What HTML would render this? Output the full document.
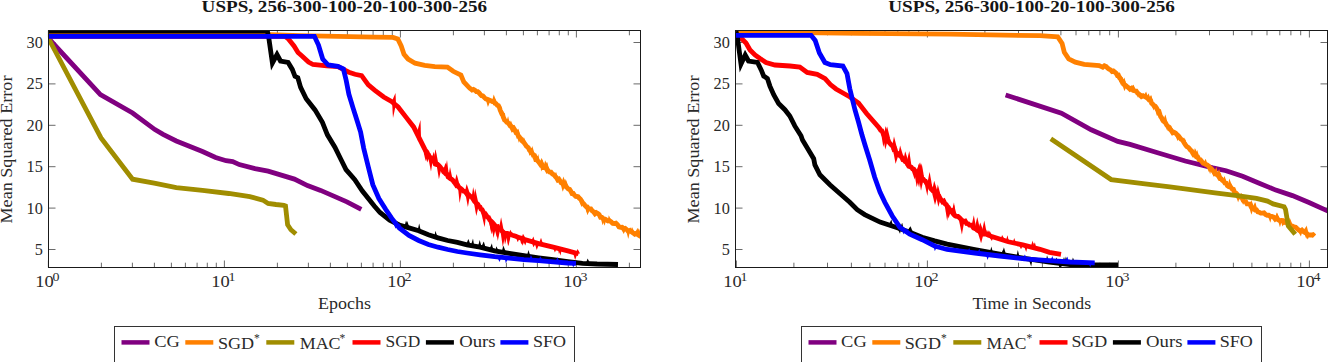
<!DOCTYPE html>
<html><head><meta charset="utf-8"><style>
html,body{margin:0;padding:0;background:#fff;width:1330px;height:362px;overflow:hidden}
svg{display:block}
.t{font-family:"Liberation Serif",serif;font-size:16.3px;fill:#2a2a2a}
.s2{font-family:"Liberation Serif",serif;font-size:12.4px;fill:#2a2a2a}
.s{font-family:"Liberation Serif",serif;font-size:11.5px;fill:#2a2a2a}
.b{font-family:"Liberation Serif",serif;font-size:16.3px;font-weight:bold;fill:#151515;letter-spacing:0}
</style></head><body>
<svg width="1330" height="362" viewBox="0 0 1330 362">
<clipPath id="clipL"><rect x="48.5" y="30.5" width="592.0" height="237.0"/></clipPath>
<path d="M48.4 267.5v-7.0M48.4 30.5v7.0M101.4 267.5v-4.8M101.4 30.5v4.8M132.4 267.5v-4.8M132.4 30.5v4.8M154.4 267.5v-4.8M154.4 30.5v4.8M171.4 267.5v-4.8M171.4 30.5v4.8M185.4 267.5v-4.8M185.4 30.5v4.8M197.1 267.5v-4.8M197.1 30.5v4.8M207.3 267.5v-4.8M207.3 30.5v4.8M216.3 267.5v-4.8M216.3 30.5v4.8M224.4 267.5v-7.0M224.4 30.5v7.0M277.4 267.5v-4.8M277.4 30.5v4.8M308.4 267.5v-4.8M308.4 30.5v4.8M330.4 267.5v-4.8M330.4 30.5v4.8M347.4 267.5v-4.8M347.4 30.5v4.8M361.4 267.5v-4.8M361.4 30.5v4.8M373.1 267.5v-4.8M373.1 30.5v4.8M383.3 267.5v-4.8M383.3 30.5v4.8M392.3 267.5v-4.8M392.3 30.5v4.8M400.4 267.5v-7.0M400.4 30.5v7.0M453.4 267.5v-4.8M453.4 30.5v4.8M484.4 267.5v-4.8M484.4 30.5v4.8M506.4 267.5v-4.8M506.4 30.5v4.8M523.4 267.5v-4.8M523.4 30.5v4.8M537.4 267.5v-4.8M537.4 30.5v4.8M549.1 267.5v-4.8M549.1 30.5v4.8M559.3 267.5v-4.8M559.3 30.5v4.8M568.3 267.5v-4.8M568.3 30.5v4.8M576.4 267.5v-7.0M576.4 30.5v7.0M629.4 267.5v-4.8M629.4 30.5v4.8M48.5 249.5h7M640.5 249.5h-7M48.5 208.1h7M640.5 208.1h-7M48.5 166.7h7M640.5 166.7h-7M48.5 125.3h7M640.5 125.3h-7M48.5 83.9h7M640.5 83.9h-7M48.5 42.5h7M640.5 42.5h-7" stroke="#444" stroke-width="0.8" fill="none"/>
<g clip-path="url(#clipL)" fill="none" stroke-width="4.8" stroke-linejoin="miter" stroke-miterlimit="6" stroke-linecap="butt">
<polyline stroke="#800080" points="48.6,38.5 100.4,94.7 132.6,113.0 154.9,129.6 163.1,134.4 176.3,141.0 189.4,146.3 202.5,151.5 215.6,157.5 226.1,160.7 232.7,161.5 239.3,164.6 255.0,168.6 268.1,171.2 281.3,175.1 294.4,179.1 307.5,185.6 320.6,190.4 333.8,196.1 346.9,201.9 361.3,209.3"/>
<polyline stroke="#ff8000" points="48.6,34.4 270.0,34.6 300.0,35.6 375.0,37.2 393.0,37.4 397.8,39.0 401.2,46.0 404.0,54.2 408.1,59.1 415.1,63.2 424.7,65.3 434.8,66.6 447.4,67.0 453.2,71.3 460.9,75.1 463.8,81.9 469.1,87.6 470.6,88.8 472.0,90.0 473.5,89.4 474.9,90.1 476.4,91.6 477.7,91.7 479.0,92.8 480.3,94.3 481.6,95.7 482.9,95.9 484.2,97.4 485.8,98.9 487.4,99.4 489.0,99.9 490.6,100.7 492.2,101.5 493.8,101.3 495.0,103.3 496.1,103.8 497.3,105.2 498.4,105.7 499.6,108.0 500.2,110.2 500.8,111.5 501.4,113.1 502.1,114.4 502.7,114.7 503.3,117.1 503.9,118.4 504.5,120.0 505.7,120.9 506.8,122.2 508.0,122.8 509.1,124.2 510.3,126.0 511.4,126.5 512.6,129.0 513.7,128.2 514.9,130.2 515.9,132.4 517.0,132.2 518.0,135.2 519.0,136.5 520.1,138.0 521.1,139.0 522.1,141.0 523.2,141.8 524.2,142.9 525.2,144.3 526.3,146.0 527.3,146.8 528.3,147.7 529.4,150.0 530.4,150.3 531.4,152.7 532.5,153.8 533.5,155.0 534.5,155.5 535.6,159.1 536.6,158.8 537.6,160.9 538.7,161.9 539.7,163.4 541.0,165.2 542.2,165.1 543.5,167.6 544.7,167.5 546.0,168.1 547.2,169.6 548.5,171.2 549.7,172.1 551.0,172.1 552.2,173.7 553.3,174.5 554.5,175.5 555.6,176.8 556.7,178.0 557.8,180.0 559.0,179.3 560.1,180.9 561.2,182.9 562.3,183.4 563.5,184.2 564.6,186.2 565.8,186.3 567.1,187.6 568.3,189.0 569.6,189.4 570.8,191.2 572.0,193.6 573.3,193.5 574.5,195.2 575.8,196.4 577.0,196.5 578.1,196.7 579.3,198.2 580.4,199.1 581.5,200.7 582.7,202.9 583.8,203.8 585.0,205.5 586.1,206.6 587.2,206.9 588.4,208.7 589.5,209.0 590.9,209.0 592.3,210.9 593.6,211.8 595.0,213.8 596.4,212.6 597.8,213.4 599.1,214.5 600.5,217.3 601.9,217.3 603.4,218.8 605.0,219.1 606.5,220.1 608.1,221.0 609.6,220.7 611.2,221.9 612.8,223.4 614.3,223.5 615.9,223.1 617.4,224.5 619.0,226.9 620.5,227.4 622.1,227.2 623.7,228.8 625.2,228.4 626.8,229.7 628.4,231.4 630.0,230.5 631.5,231.9 633.1,232.9 634.7,234.2 636.3,233.3 637.8,234.5 639.4,235.7 641.0,236.5"/>
<polygon fill="#ff8000" points="626.3,231.2 630.0,231.2 628.3,239.0"/>
<polygon fill="#ff8000" points="540.5,165.6 544.4,165.6 542.4,159.0"/>
<polygon fill="#ff8000" points="505.9,122.7 509.7,122.7 508.1,116.3"/>
<polygon fill="#ff8000" points="539.9,165.1 544.2,165.1 541.3,171.6"/>
<polygon fill="#ff8000" points="601.6,218.9 606.3,218.9 604.7,225.7"/>
<polygon fill="#ff8000" points="529.7,153.3 534.4,153.3 532.3,146.1"/>
<polygon fill="#ff8000" points="521.3,142.5 526.2,142.5 523.9,137.2"/>
<polygon fill="#ff8000" points="544.6,168.7 548.5,168.7 546.2,161.8"/>
<polygon fill="#ff8000" points="607.6,220.7 611.4,220.7 608.8,215.2"/>
<polygon fill="#ff8000" points="515.0,132.6 519.2,132.6 516.9,139.3"/>
<polygon fill="#ff8000" points="517.0,136.9 521.6,136.9 518.9,142.8"/>
<polygon fill="#ff8000" points="485.8,99.7 490.9,99.7 487.9,107.1"/>
<polygon fill="#ff8000" points="560.6,184.1 565.9,184.1 562.7,191.8"/>
<polygon fill="#ff8000" points="634.9,233.6 638.5,233.6 637.2,228.5"/>
<polygon fill="#ff8000" points="584.9,207.3 590.2,207.3 587.6,215.3"/>
<polygon fill="#ff8000" points="636.3,235.4 641.7,235.4 638.8,228.2"/>
<polygon fill="#ff8000" points="501.1,116.2 505.0,116.2 503.8,111.0"/>
<polygon fill="#ff8000" points="630.3,232.5 634.8,232.5 632.0,226.9"/>
<polygon fill="#ff8000" points="560.8,183.8 565.1,183.8 563.6,176.4"/>
<polygon fill="#ff8000" points="543.5,168.2 548.6,168.2 546.7,174.2"/>
<polygon fill="#ff8000" points="585.1,207.5 590.2,207.5 587.8,213.7"/>
<polygon fill="#ff8000" points="508.3,126.2 513.3,126.2 510.9,120.4"/>
<polygon fill="#ff8000" points="561.7,185.2 566.4,185.2 563.8,177.7"/>
<polygon fill="#ff8000" points="563.0,186.3 568.3,186.3 565.0,178.8"/>
<polygon fill="#ff8000" points="563.8,186.6 568.4,186.6 566.1,179.9"/>
<polygon fill="#ff8000" points="544.7,169.2 549.0,169.2 547.3,162.0"/>
<polygon fill="#ff8000" points="491.8,102.1 496.7,102.1 493.7,94.5"/>
<polygon fill="#ff8000" points="544.4,169.1 549.3,169.1 546.8,162.9"/>
<polygon fill="#ff8000" points="585.5,207.8 590.1,207.8 587.5,214.4"/>
<polygon fill="#ff8000" points="621.1,228.8 626.3,228.8 623.7,234.0"/>
<polygon fill="#ff8000" points="600.8,218.2 604.9,218.2 602.6,225.3"/>
<polygon fill="#ff8000" points="527.6,150.1 531.9,150.1 529.6,156.0"/>
<polygon fill="#ff8000" points="539.4,165.1 544.0,165.1 541.4,157.7"/>
<polygon fill="#ff8000" points="515.5,133.9 519.6,133.9 518.1,128.6"/>
<polygon fill="#ff8000" points="554.0,177.1 557.8,177.1 556.0,171.8"/>
<polygon fill="#ff8000" points="543.0,167.9 548.2,167.9 545.2,160.3"/>
<polygon fill="#ff8000" points="635.5,234.7 640.6,234.7 637.7,227.8"/>
<polygon fill="#ff8000" points="530.1,153.2 533.8,153.2 532.3,158.7"/>
<polygon fill="#ff8000" points="535.8,160.9 539.5,160.9 538.3,153.9"/>
<polygon fill="#ff8000" points="579.3,201.5 584.6,201.5 581.5,207.0"/>
<polyline stroke="#a08d00" points="48.6,38.5 101.0,137.9 132.6,179.2 154.2,183.2 176.3,187.7 202.5,190.4 228.8,193.5 249.8,196.7 262.9,200.1 268.1,203.5 276.0,204.5 283.9,205.3 285.5,206.0 287.6,224.7 290.9,229.7 295.9,234.0"/>
<polyline stroke="#ff0000" points="48.6,36.3 285.0,36.3 288.0,38.5 294.0,46.0 298.0,52.5 302.0,56.0 308.5,62.0 313.0,64.5 326.8,65.8 337.9,66.7 348.9,72.2 355.0,74.3 361.6,75.6 368.3,84.9 374.9,90.4 383.7,97.0 391.5,101.5 398.1,107.0 405.8,116.9 413.6,126.9 424.8,149.2 425.8,150.8 426.8,152.0 427.8,153.7 428.7,155.1 429.7,157.1 430.7,157.6 431.7,160.1 432.7,160.9 434.0,161.1 435.2,164.1 436.5,164.5 437.7,164.4 439.0,165.6 440.2,167.1 441.5,168.7 442.6,169.9 443.7,171.9 444.8,172.7 445.9,174.0 447.1,174.4 448.2,177.1 449.3,177.8 450.4,178.6 451.7,179.3 452.9,180.3 454.2,182.2 455.4,183.5 456.7,185.7 457.9,185.6 459.2,187.5 460.6,188.5 461.9,189.5 463.3,191.1 464.7,191.4 466.1,192.7 467.4,194.6 468.8,194.7 470.2,196.3 471.3,196.6 472.4,198.0 473.5,199.8 474.6,201.5 475.6,202.5 476.7,203.3 477.8,204.2 478.9,206.4 480.0,207.0 481.0,209.2 482.1,209.6 483.1,211.6 484.2,213.7 485.2,213.7 486.3,215.2 487.3,217.0 488.5,217.5 489.7,219.8 491.0,221.2 492.2,222.2 493.4,223.6 494.6,225.0 496.1,226.9 497.6,226.7 499.0,229.2 500.5,229.2 502.0,231.0 503.8,232.6 505.6,233.4 507.5,233.5 509.3,234.0 510.9,234.6 512.5,235.2 514.2,235.7 515.8,236.3 517.4,236.9 519.0,237.5 520.7,238.0 522.3,238.6 523.9,239.2 538.6,243.6 553.2,247.2 567.8,250.9 578.5,253.8"/>
<polygon fill="#ff0000" points="436.8,166.0 441.9,166.0 438.9,179.2"/>
<polygon fill="#ff0000" points="491.4,224.3 496.6,224.3 493.5,238.1"/>
<polygon fill="#ff0000" points="423.1,149.9 427.4,149.9 425.7,161.2"/>
<polygon fill="#ff0000" points="442.1,173.1 448.3,173.1 445.6,162.7"/>
<polygon fill="#ff0000" points="498.7,229.9 503.6,229.9 501.1,217.2"/>
<polygon fill="#ff0000" points="432.8,163.7 437.3,163.7 435.6,149.0"/>
<polygon fill="#ff0000" points="433.2,164.3 438.5,164.3 435.6,149.7"/>
<polygon fill="#ff0000" points="464.2,194.2 470.1,194.2 466.7,184.1"/>
<polygon fill="#ff0000" points="489.9,223.1 495.9,223.1 493.3,233.3"/>
<polygon fill="#ff0000" points="489.2,221.6 493.6,221.6 491.3,234.0"/>
<polygon fill="#ff0000" points="493.9,226.8 500.0,226.8 496.8,237.0"/>
<polygon fill="#ff0000" points="453.7,185.7 459.9,185.7 456.6,173.9"/>
<polygon fill="#ff0000" points="424.2,153.0 430.4,153.0 427.3,162.6"/>
<polygon fill="#ff0000" points="465.5,194.6 470.1,194.6 467.9,206.9"/>
<polygon fill="#ff0000" points="471.2,199.7 475.7,199.7 473.2,186.9"/>
<polygon fill="#ff0000" points="503.3,233.4 508.1,233.4 505.0,244.5"/>
<polygon fill="#ff0000" points="428.2,157.6 433.2,157.6 431.0,171.5"/>
<polygon fill="#ff0000" points="481.3,212.9 486.3,212.9 484.6,227.3"/>
<polygon fill="#ff0000" points="506.1,233.8 511.2,233.8 508.4,246.3"/>
<polygon fill="#ff0000" points="444.4,174.2 448.7,174.2 447.0,160.0"/>
<polygon fill="#ff0000" points="490.2,222.4 494.5,222.4 491.9,234.3"/>
<polygon fill="#ff0000" points="448.1,178.5 452.4,178.5 450.0,166.9"/>
<polygon fill="#ff0000" points="500.6,232.1 505.8,232.1 502.8,247.0"/>
<polygon fill="#ff0000" points="506.3,233.7 510.5,233.7 508.0,245.9"/>
<polygon fill="#ff0000" points="495.2,227.3 500.6,227.3 497.8,241.1"/>
<polygon fill="#ff0000" points="472.9,202.5 478.2,202.5 475.2,188.4"/>
<polygon fill="#ff0000" points="488.8,222.0 494.9,222.0 491.1,231.0"/>
<polygon fill="#ff0000" points="474.0,203.2 479.3,203.2 476.3,216.1"/>
<polygon fill="#ff0000" points="458.1,188.3 462.5,188.3 459.6,203.1"/>
<polygon fill="#ff0000" points="430.9,161.0 435.4,161.0 433.8,151.8"/>
<polygon fill="#ff0000" points="392.0,101.0 396.0,104.0 395.5,93.0"/>
<polygon fill="#ff0000" points="392.0,101.0 396.0,104.0 393.0,118.0"/>
<polygon fill="#ff0000" points="417.0,132.0 421.0,138.0 420.5,120.0"/>
<polygon fill="#ff0000" points="417.0,132.0 421.0,138.0 418.0,141.5"/>
<polygon fill="#ff0000" points="508.7,234.5 513.0,234.5 510.3,229.8"/>
<polygon fill="#ff0000" points="515.9,237.0 519.4,237.0 518.0,242.1"/>
<polygon fill="#ff0000" points="553.1,247.7 557.0,247.7 554.9,252.5"/>
<polygon fill="#ff0000" points="575.4,253.6 580.1,253.6 577.6,248.9"/>
<polygon fill="#ff0000" points="521.1,239.1 525.9,239.1 523.0,233.7"/>
<polygon fill="#ff0000" points="522.4,239.5 527.1,239.5 525.3,245.4"/>
<polygon fill="#ff0000" points="531.8,242.3 536.6,242.3 533.4,247.3"/>
<polygon fill="#ff0000" points="558.2,248.9 561.8,248.9 560.5,255.6"/>
<polygon fill="#ff0000" points="557.9,248.8 561.4,248.8 558.9,253.8"/>
<polygon fill="#ff0000" points="530.7,241.9 535.0,241.9 533.4,236.5"/>
<polygon fill="#ff0000" points="573.1,253.0 577.6,253.0 575.1,259.9"/>
<polygon fill="#ff0000" points="519.8,238.5 524.1,238.5 521.3,244.6"/>
<polygon fill="#ff0000" points="521.0,238.9 525.3,238.9 522.5,245.7"/>
<polygon fill="#ff0000" points="534.8,243.2 539.5,243.2 536.7,249.9"/>
<polygon fill="#ff0000" points="538.7,244.2 543.2,244.2 541.0,237.7"/>
<polygon fill="#ff0000" points="516.3,237.1 519.7,237.1 517.5,241.9"/>
<polyline stroke="#000000" points="48.6,31.2 267.4,31.2 268.8,38.0 272.4,63.0 277.0,54.5 280.5,61.0 288.1,62.5 292.3,69.4 295.0,76.3 297.8,77.7 300.6,87.4 306.2,98.7 315.0,109.9 322.4,122.4 327.4,134.8 334.9,147.2 341.1,159.7 346.0,169.6 354.8,179.6 362.2,190.8 374.3,206.0 380.0,212.5 389.7,220.1 399.3,225.0 409.0,227.9 418.7,230.8 428.4,234.7 438.0,237.9 447.7,240.5 457.4,242.4 467.0,244.9 480.0,247.2 494.6,250.9 509.3,253.4 523.9,255.7 538.6,257.8 553.2,259.7 567.8,261.6 582.5,263.3 597.1,264.0 618.0,264.5"/>
<polygon fill="#000000" points="470.7,245.9 474.2,245.9 473.0,238.5"/>
<polygon fill="#000000" points="530.9,257.0 534.5,257.0 532.3,262.1"/>
<polygon fill="#000000" points="481.2,248.1 485.5,248.1 483.9,241.6"/>
<polygon fill="#000000" points="501.6,252.5 506.1,252.5 503.3,245.5"/>
<polygon fill="#000000" points="465.8,245.1 470.6,245.1 468.4,238.9"/>
<polygon fill="#000000" points="406.0,227.5 409.5,227.5 407.2,221.1"/>
<polygon fill="#000000" points="489.9,250.2 493.9,250.2 491.3,245.0"/>
<polygon fill="#000000" points="585.8,263.6 590.3,263.6 587.6,258.5"/>
<polygon fill="#000000" points="481.4,248.1 485.4,248.1 483.4,241.7"/>
<polygon fill="#000000" points="495.2,251.3 498.8,251.3 496.3,246.2"/>
<polygon fill="#000000" points="477.8,247.2 481.7,247.2 479.7,240.1"/>
<polygon fill="#000000" points="434.3,237.2 437.6,237.2 435.4,230.7"/>
<polygon fill="#000000" points="404.3,227.1 408.7,227.1 406.0,220.4"/>
<polygon fill="#000000" points="417.4,231.0 420.9,231.0 419.2,223.6"/>
<polygon fill="#000000" points="526.7,256.4 530.4,256.4 528.5,250.0"/>
<polygon fill="#000000" points="489.3,250.0 493.0,250.0 491.9,243.3"/>
<polyline stroke="#0000ff" points="48.6,36.3 314.4,36.3 318.5,45.0 322.7,59.0 328.2,65.0 337.9,66.3 343.4,69.0 346.2,80.5 348.9,94.3 353.1,108.1 357.5,122.0 360.6,132.0 363.7,148.2 368.2,166.5 372.8,184.7 378.9,198.5 385.8,209.5 391.6,218.2 399.3,228.0 409.0,235.5 418.7,240.5 428.4,244.5 438.0,247.2 447.7,249.5 457.4,251.5 467.0,253.0 480.0,254.8 494.6,256.7 509.3,258.2 523.9,259.7 538.6,260.7 553.2,261.9 567.8,263.0 576.0,263.3"/>
<polygon fill="#0000ff" points="504.7,257.9 508.2,257.9 505.8,263.3"/>
<polygon fill="#0000ff" points="538.5,260.9 543.0,260.9 540.2,256.2"/>
<polygon fill="#0000ff" points="555.1,262.2 559.7,262.2 557.5,257.2"/>
<polygon fill="#0000ff" points="393.2,223.0 397.5,223.0 395.6,228.7"/>
<polygon fill="#0000ff" points="571.5,263.2 575.7,263.2 573.2,267.2"/>
<polygon fill="#0000ff" points="497.3,257.2 501.6,257.2 499.5,261.9"/>
<polygon fill="#0000ff" points="397.1,227.9 401.5,227.9 399.9,223.2"/>
<polygon fill="#0000ff" points="529.1,260.2 533.4,260.2 530.9,255.1"/>
<polygon fill="#0000ff" points="367.1,170.0 371.1,170.0 369.6,173.7"/>
<polygon fill="#0000ff" points="362.7,151.1 366.2,151.1 363.8,146.7"/>
<polygon fill="#0000ff" points="367.5,170.2 370.8,170.2 369.5,165.7"/>
<polygon fill="#0000ff" points="360.4,141.6 364.4,141.6 361.8,146.5"/>
<polygon fill="#0000ff" points="350.2,104.8 354.0,104.8 352.6,100.9"/>
<polygon fill="#0000ff" points="364.3,156.6 367.2,156.6 365.8,161.0"/>
<polygon fill="#0000ff" points="354.1,117.2 357.8,117.2 356.6,113.0"/>
</g>
<rect x="48.5" y="30.5" width="592.0" height="237.0" fill="none" stroke="#1a1a1a" stroke-width="1.0"/>
<text x="42.9" y="254.9" text-anchor="end" class="t">5</text>
<text x="42.9" y="213.5" text-anchor="end" class="t">10</text>
<text x="42.9" y="172.1" text-anchor="end" class="t">15</text>
<text x="42.9" y="130.7" text-anchor="end" class="t">20</text>
<text x="42.9" y="89.3" text-anchor="end" class="t">25</text>
<text x="42.9" y="47.9" text-anchor="end" class="t">30</text>
<text id="Lx10_0" class="t" x="35.20" y="286.90" textLength="18.48" lengthAdjust="spacingAndGlyphs">10</text>
<text x="52.5" y="280.6" class="s2" textLength="7.0" lengthAdjust="spacingAndGlyphs">0</text>
<text id="Lx10_1" class="t" x="211.20" y="286.90" textLength="18.48" lengthAdjust="spacingAndGlyphs">10</text>
<text x="228.5" y="280.6" class="s2" textLength="7.0" lengthAdjust="spacingAndGlyphs">1</text>
<text id="Lx10_2" class="t" x="387.20" y="286.90" textLength="18.48" lengthAdjust="spacingAndGlyphs">10</text>
<text x="404.5" y="280.6" class="s2" textLength="7.0" lengthAdjust="spacingAndGlyphs">2</text>
<text id="Lx10_3" class="t" x="563.20" y="286.90" textLength="18.48" lengthAdjust="spacingAndGlyphs">10</text>
<text x="580.5" y="280.6" class="s2" textLength="7.0" lengthAdjust="spacingAndGlyphs">3</text>
<text id="Lxl" class="t" x="318.00" y="308.90" textLength="52.94" lengthAdjust="spacingAndGlyphs">Epochs</text>
<text id="Lyl" class="t" transform="translate(11.60,223.50) rotate(-90)" x="0" y="0" textLength="147.92" lengthAdjust="spacingAndGlyphs">Mean Squared Error</text>
<text id="Lti" class="b" x="201.60" y="11.90" textLength="285.44" lengthAdjust="spacingAndGlyphs">USPS, 256-300-100-20-100-300-256</text>
<rect x="114.5" y="326.5" width="460" height="60" fill="none" stroke="#333" stroke-width="1"/>
<line x1="121.5" y1="342.4" x2="149.5" y2="342.4" stroke="#800080" stroke-width="4.5"/>
<text id="Lleg0" class="t" x="154.20" y="347.00" textLength="25.62" lengthAdjust="spacingAndGlyphs">CG</text>
<line x1="185.3" y1="342.4" x2="213.3" y2="342.4" stroke="#ff8000" stroke-width="4.5"/>
<text id="Lleg1" class="t" x="217.90" y="349.20" textLength="36.18" lengthAdjust="spacingAndGlyphs">SGD</text>
<text x="253.9" y="341.6" class="s">*</text>
<line x1="266.3" y1="342.4" x2="294.3" y2="342.4" stroke="#a08d00" stroke-width="4.5"/>
<text id="Lleg2" class="t" x="299.70" y="349.20" textLength="40.91" lengthAdjust="spacingAndGlyphs">MAC</text>
<text x="339.6" y="341.6" class="s">*</text>
<line x1="352.5" y1="342.4" x2="380.5" y2="342.4" stroke="#ff0000" stroke-width="4.5"/>
<text id="Lleg3" class="t" x="385.50" y="347.00" textLength="34.78" lengthAdjust="spacingAndGlyphs">SGD</text>
<line x1="425.9" y1="342.4" x2="453.9" y2="342.4" stroke="#000000" stroke-width="4.5"/>
<text id="Lleg4" class="t" x="459.20" y="347.00" textLength="36.42" lengthAdjust="spacingAndGlyphs">Ours</text>
<line x1="500.4" y1="342.4" x2="528.4" y2="342.4" stroke="#0000ff" stroke-width="4.5"/>
<text id="Lleg5" class="t" x="532.90" y="347.00" textLength="33.01" lengthAdjust="spacingAndGlyphs">SFO</text>
<clipPath id="clipR"><rect x="735.5" y="30.5" width="592.0" height="237.0"/></clipPath>
<path d="M736.4 267.5v-7.0M736.4 30.5v7.0M793.9 267.5v-4.8M793.9 30.5v4.8M827.5 267.5v-4.8M827.5 30.5v4.8M851.4 267.5v-4.8M851.4 30.5v4.8M869.9 267.5v-4.8M869.9 30.5v4.8M885.0 267.5v-4.8M885.0 30.5v4.8M897.8 267.5v-4.8M897.8 30.5v4.8M908.9 267.5v-4.8M908.9 30.5v4.8M918.7 267.5v-4.8M918.7 30.5v4.8M927.4 267.5v-7.0M927.4 30.5v7.0M984.9 267.5v-4.8M984.9 30.5v4.8M1018.5 267.5v-4.8M1018.5 30.5v4.8M1042.4 267.5v-4.8M1042.4 30.5v4.8M1060.9 267.5v-4.8M1060.9 30.5v4.8M1076.0 267.5v-4.8M1076.0 30.5v4.8M1088.8 267.5v-4.8M1088.8 30.5v4.8M1099.9 267.5v-4.8M1099.9 30.5v4.8M1109.7 267.5v-4.8M1109.7 30.5v4.8M1118.4 267.5v-7.0M1118.4 30.5v7.0M1175.9 267.5v-4.8M1175.9 30.5v4.8M1209.5 267.5v-4.8M1209.5 30.5v4.8M1233.4 267.5v-4.8M1233.4 30.5v4.8M1251.9 267.5v-4.8M1251.9 30.5v4.8M1267.0 267.5v-4.8M1267.0 30.5v4.8M1279.8 267.5v-4.8M1279.8 30.5v4.8M1290.9 267.5v-4.8M1290.9 30.5v4.8M1300.7 267.5v-4.8M1300.7 30.5v4.8M1309.4 267.5v-7.0M1309.4 30.5v7.0M735.5 249.5h7M1327.5 249.5h-7M735.5 208.1h7M1327.5 208.1h-7M735.5 166.7h7M1327.5 166.7h-7M735.5 125.3h7M1327.5 125.3h-7M735.5 83.9h7M1327.5 83.9h-7M735.5 42.5h7M1327.5 42.5h-7" stroke="#444" stroke-width="0.8" fill="none"/>
<g clip-path="url(#clipR)" fill="none" stroke-width="4.8" stroke-linejoin="miter" stroke-miterlimit="6" stroke-linecap="butt">
<polyline stroke="#800080" points="1005.6,95.0 1061.4,113.2 1091.2,129.8 1117.8,141.4 1130.0,144.4 1157.6,152.7 1185.2,161.0 1212.9,167.9 1226.1,170.7 1242.6,176.3 1259.2,183.2 1275.8,190.1 1292.4,195.6 1309.0,202.5 1324.2,209.4 1328.0,211.0"/>
<polyline stroke="#ff8000" points="735.5,31.7 860.0,33.3 950.0,34.2 1040.0,35.7 1057.7,36.8 1062.1,43.5 1064.3,52.3 1068.7,58.9 1075.3,62.2 1084.2,64.4 1099.2,65.7 1100.9,66.4 1102.7,67.2 1104.4,65.8 1106.2,66.6 1107.7,68.1 1109.1,69.2 1110.6,69.9 1112.0,71.4 1113.4,70.9 1114.8,72.1 1116.2,73.3 1117.3,75.4 1118.4,75.2 1119.5,77.8 1120.6,78.8 1121.4,80.5 1122.2,81.2 1123.1,82.2 1123.9,84.3 1125.4,85.2 1126.8,86.4 1128.3,87.6 1130.0,89.3 1131.6,88.3 1133.2,90.4 1134.9,90.9 1136.2,91.0 1137.5,93.0 1138.7,93.9 1140.0,95.0 1141.5,96.6 1143.1,95.8 1144.7,96.6 1146.2,97.3 1147.8,98.4 1149.3,100.2 1150.5,100.6 1151.7,103.4 1152.9,104.2 1154.0,105.6 1155.2,106.2 1156.4,107.9 1157.6,109.9 1158.4,112.5 1159.2,112.2 1160.0,114.8 1160.7,116.7 1161.5,117.6 1162.3,119.5 1163.1,120.9 1164.3,121.7 1165.5,122.9 1166.7,125.0 1167.8,126.2 1169.0,127.4 1170.2,129.4 1171.4,130.6 1172.8,132.8 1174.2,132.3 1175.6,133.2 1176.9,134.6 1178.3,135.8 1179.7,137.5 1180.9,139.1 1182.1,139.8 1183.3,141.3 1184.4,143.3 1185.6,145.0 1186.8,146.6 1188.0,147.2 1189.2,148.3 1190.4,150.1 1191.6,150.9 1192.7,153.0 1193.9,155.1 1195.1,155.0 1196.3,156.8 1197.7,157.0 1199.1,159.6 1200.4,159.7 1201.8,161.5 1203.2,163.2 1204.6,163.7 1206.0,164.5 1207.4,165.1 1208.8,166.3 1210.1,167.5 1211.5,168.8 1212.9,170.6 1214.1,172.2 1215.3,174.0 1216.5,174.3 1217.6,175.1 1218.8,176.5 1220.0,178.6 1221.2,178.9 1222.4,180.4 1223.7,181.2 1224.9,183.0 1226.1,183.2 1227.3,185.6 1228.5,186.4 1229.8,185.8 1231.0,187.6 1232.2,189.0 1233.4,189.3 1234.7,192.4 1235.9,193.0 1237.1,194.2 1238.3,196.4 1239.6,196.8 1240.8,196.2 1242.0,197.9 1243.3,200.6 1244.5,201.5 1245.7,201.6 1247.0,203.9 1248.2,203.9 1249.6,204.1 1251.0,206.7 1252.3,208.1 1253.7,208.9 1255.1,210.0 1256.5,210.0 1257.8,211.9 1259.2,212.2 1260.8,213.2 1262.4,213.2 1264.0,212.9 1265.5,214.5 1267.1,215.2 1268.7,215.1 1270.3,216.4 1271.9,216.4 1273.5,217.0 1275.1,219.0 1276.6,217.6 1278.2,219.8 1279.8,220.6 1281.4,220.5 1283.0,220.6 1284.5,222.4 1286.1,222.1 1287.7,224.1 1289.3,224.7 1290.8,225.8 1292.4,226.0 1294.0,226.8 1295.6,227.1 1297.2,228.7 1298.7,230.1 1300.3,231.0 1301.9,230.0 1303.5,231.6 1305.1,232.7 1306.6,233.3 1308.2,234.7 1309.8,235.0 1311.4,235.0 1312.9,234.7 1314.5,236.3"/>
<polygon fill="#ff8000" points="1249.0,207.5 1254.4,207.5 1251.2,200.0"/>
<polygon fill="#ff8000" points="1241.0,199.8 1244.8,199.8 1243.2,205.1"/>
<polygon fill="#ff8000" points="1251.7,209.4 1256.9,209.4 1255.1,202.1"/>
<polygon fill="#ff8000" points="1122.2,84.7 1127.1,84.7 1124.5,91.3"/>
<polygon fill="#ff8000" points="1162.4,122.3 1167.4,122.3 1165.4,114.5"/>
<polygon fill="#ff8000" points="1131.3,90.5 1135.9,90.5 1133.4,84.5"/>
<polygon fill="#ff8000" points="1287.8,225.5 1293.0,225.5 1289.7,217.7"/>
<polygon fill="#ff8000" points="1118.1,78.9 1123.2,78.9 1121.4,85.9"/>
<polygon fill="#ff8000" points="1280.5,220.8 1285.8,220.8 1282.5,226.6"/>
<polygon fill="#ff8000" points="1203.1,164.1 1207.5,164.1 1205.6,158.7"/>
<polygon fill="#ff8000" points="1304.7,234.0 1310.1,234.0 1307.8,239.4"/>
<polygon fill="#ff8000" points="1211.3,171.2 1215.4,171.2 1213.6,176.9"/>
<polygon fill="#ff8000" points="1236.0,196.1 1240.3,196.1 1238.1,202.3"/>
<polygon fill="#ff8000" points="1274.8,218.3 1279.5,218.3 1277.0,212.5"/>
<polygon fill="#ff8000" points="1284.3,222.2 1288.0,222.2 1286.1,216.5"/>
<polygon fill="#ff8000" points="1164.7,124.8 1168.4,124.8 1167.4,131.2"/>
<polygon fill="#ff8000" points="1249.2,207.3 1253.9,207.3 1251.4,214.8"/>
<polygon fill="#ff8000" points="1182.3,143.2 1186.4,143.2 1184.1,137.5"/>
<polygon fill="#ff8000" points="1291.4,226.4 1295.0,226.4 1292.9,233.8"/>
<polygon fill="#ff8000" points="1213.3,174.1 1218.1,174.1 1216.4,167.0"/>
<polygon fill="#ff8000" points="1154.9,108.8 1159.1,108.8 1157.3,115.0"/>
<polygon fill="#ff8000" points="1182.7,143.5 1186.5,143.5 1185.0,138.4"/>
<polygon fill="#ff8000" points="1278.0,220.6 1282.0,220.6 1279.9,227.2"/>
<polygon fill="#ff8000" points="1135.6,92.9 1139.3,92.9 1138.1,98.1"/>
<polygon fill="#ff8000" points="1216.0,176.2 1221.2,176.2 1219.1,169.1"/>
<polygon fill="#ff8000" points="1119.9,81.1 1124.4,81.1 1121.4,75.5"/>
<polygon fill="#ff8000" points="1268.0,216.2 1272.1,216.2 1270.3,222.7"/>
<polygon fill="#ff8000" points="1193.9,156.8 1199.3,156.8 1197.2,149.9"/>
<polygon fill="#ff8000" points="1275.4,218.6 1279.3,218.6 1276.8,212.6"/>
<polygon fill="#ff8000" points="1304.1,233.1 1308.1,233.1 1306.3,238.9"/>
<polygon fill="#ff8000" points="1150.7,104.5 1155.4,104.5 1153.8,110.4"/>
<polygon fill="#ff8000" points="1148.6,100.8 1152.6,100.8 1151.3,95.0"/>
<polygon fill="#ff8000" points="1217.6,178.6 1222.6,178.6 1220.4,172.2"/>
<polygon fill="#ff8000" points="1130.6,90.3 1135.7,90.3 1133.5,85.1"/>
<polygon fill="#ff8000" points="1145.8,99.0 1150.6,99.0 1148.6,93.3"/>
<polygon fill="#ff8000" points="1148.1,101.3 1153.4,101.3 1150.8,95.3"/>
<polygon fill="#ff8000" points="1297.8,230.9 1302.5,230.9 1300.9,236.6"/>
<polygon fill="#ff8000" points="1175.0,135.2 1180.3,135.2 1177.6,140.9"/>
<polygon fill="#ff8000" points="1168.2,130.1 1173.5,130.1 1170.6,124.8"/>
<polygon fill="#ff8000" points="1193.7,155.7 1197.5,155.7 1195.6,149.0"/>
<polygon fill="#ff8000" points="1303.5,233.0 1308.5,233.0 1306.6,225.4"/>
<polygon fill="#ff8000" points="1221.8,182.0 1226.7,182.0 1224.5,176.0"/>
<polygon fill="#ff8000" points="1143.0,97.0 1148.1,97.0 1146.1,91.6"/>
<polygon fill="#ff8000" points="1208.1,167.4 1212.0,167.4 1210.1,174.2"/>
<polygon fill="#ff8000" points="1192.9,155.6 1198.0,155.6 1194.9,147.9"/>
<polygon fill="#ff8000" points="1227.8,186.3 1232.3,186.3 1229.3,178.6"/>
<polygon fill="#ff8000" points="1206.2,166.0 1210.7,166.0 1209.1,172.5"/>
<polygon fill="#ff8000" points="1253.4,210.0 1257.2,210.0 1255.5,202.5"/>
<polygon fill="#ff8000" points="1121.6,84.3 1126.3,84.3 1124.4,77.4"/>
<polygon fill="#ff8000" points="1302.6,232.5 1307.0,232.5 1305.5,226.9"/>
<polyline stroke="#a08d00" points="1050.8,138.8 1111.2,179.6 1145.0,183.9 1169.8,186.8 1215.0,192.9 1237.1,195.6 1256.5,198.4 1267.5,201.1 1273.1,203.9 1284.1,206.7 1285.5,209.4 1288.3,226.0 1295.2,234.3"/>
<polyline stroke="#ff0000" points="737.0,36.3 741.0,38.0 746.0,43.0 750.0,50.0 755.0,55.0 760.0,58.5 766.0,62.5 775.0,65.0 790.0,66.0 799.8,67.0 807.2,72.4 817.2,74.4 825.1,78.6 830.4,84.6 836.0,89.0 843.0,93.0 850.0,97.0 858.5,103.0 866.6,113.5 878.6,127.3 879.7,128.7 880.7,130.4 881.8,130.8 882.8,132.7 883.8,135.0 884.9,136.0 885.9,137.5 887.0,138.5 888.0,140.0 889.0,142.3 890.0,143.5 891.0,144.7 892.0,145.6 893.0,146.3 894.0,149.5 895.0,149.3 896.0,152.4 897.0,153.0 898.2,154.1 899.4,155.1 900.5,156.1 901.7,157.1 902.9,159.9 904.1,160.3 905.2,161.7 906.4,162.0 907.6,164.2 908.8,166.2 910.1,166.7 911.3,167.2 912.5,168.9 913.8,169.1 915.0,170.8 916.2,171.8 917.5,173.6 918.7,174.0 919.8,175.3 920.9,176.3 922.0,178.2 923.1,179.0 924.2,180.5 925.3,180.9 926.4,182.9 927.5,183.8 928.6,184.6 929.7,186.3 930.8,188.6 932.0,189.9 933.1,191.1 934.3,191.0 935.4,193.8 936.6,193.8 937.7,195.3 938.9,196.0 940.0,198.3 941.2,199.8 942.5,201.8 943.7,201.1 945.0,203.8 946.2,204.5 947.2,206.2 948.3,207.3 949.3,208.9 950.3,210.9 951.4,210.7 952.4,212.8 953.8,214.6 955.2,215.8 956.5,216.3 957.9,216.4 959.3,217.5 960.7,219.0 962.2,220.3 963.7,221.5 965.2,221.1 966.6,223.5 968.1,223.7 969.6,225.2 971.1,225.2 972.3,226.1 973.6,228.1 974.8,228.5 976.1,229.1 977.3,230.4 978.9,231.2 980.5,232.2 982.1,233.1 983.7,234.0 985.4,233.8 987.0,234.5 988.6,235.2 990.2,235.9 991.8,236.6 1008.3,241.8 1022.8,244.9 1040.0,249.3 1049.4,252.3 1061.0,254.3"/>
<polygon fill="#ff0000" points="977.6,232.3 983.8,232.3 980.2,222.4"/>
<polygon fill="#ff0000" points="891.4,149.4 897.4,149.4 894.0,136.5"/>
<polygon fill="#ff0000" points="977.8,232.4 983.9,232.4 981.1,243.3"/>
<polygon fill="#ff0000" points="974.2,230.2 980.2,230.2 977.3,217.0"/>
<polygon fill="#ff0000" points="911.3,169.4 916.7,169.4 914.7,179.6"/>
<polygon fill="#ff0000" points="958.9,219.9 964.5,219.9 961.9,234.6"/>
<polygon fill="#ff0000" points="905.7,165.9 911.5,165.9 909.3,151.1"/>
<polygon fill="#ff0000" points="946.3,208.5 951.8,208.5 948.5,218.4"/>
<polygon fill="#ff0000" points="884.0,138.6 890.1,138.6 887.1,126.4"/>
<polygon fill="#ff0000" points="932.2,193.5 938.3,193.5 935.0,204.9"/>
<polygon fill="#ff0000" points="917.8,175.9 923.2,175.9 920.6,163.4"/>
<polygon fill="#ff0000" points="924.5,183.1 928.8,183.1 927.4,196.1"/>
<polygon fill="#ff0000" points="915.6,174.0 921.7,174.0 919.4,162.4"/>
<polygon fill="#ff0000" points="931.7,192.1 937.7,192.1 934.2,180.7"/>
<polygon fill="#ff0000" points="935.9,195.7 940.8,195.7 937.8,184.6"/>
<polygon fill="#ff0000" points="883.1,137.3 888.6,137.3 885.3,149.6"/>
<polygon fill="#ff0000" points="950.5,214.1 956.4,214.1 954.1,204.8"/>
<polygon fill="#ff0000" points="926.8,185.9 932.1,185.9 929.6,171.8"/>
<polygon fill="#ff0000" points="981.3,233.9 986.9,233.9 984.3,220.5"/>
<polygon fill="#ff0000" points="915.7,173.9 921.2,173.9 919.1,187.6"/>
<polygon fill="#ff0000" points="881.4,135.0 886.3,135.0 883.3,147.0"/>
<polygon fill="#ff0000" points="951.2,213.9 955.4,213.9 954.0,202.3"/>
<polygon fill="#ff0000" points="915.9,173.9 920.6,173.9 918.9,164.1"/>
<polygon fill="#ff0000" points="898.0,156.1 903.2,156.1 900.1,145.5"/>
<polygon fill="#ff0000" points="914.5,173.5 920.4,173.5 916.7,186.9"/>
<polygon fill="#ff0000" points="918.6,176.3 923.2,176.3 920.9,162.2"/>
<polygon fill="#ff0000" points="918.8,177.2 924.0,177.2 921.0,190.7"/>
<polygon fill="#ff0000" points="903.0,161.8 908.5,161.8 905.2,151.2"/>
<polygon fill="#ff0000" points="971.0,228.1 976.2,228.1 973.8,215.2"/>
<polygon fill="#ff0000" points="883.5,137.9 889.2,137.9 885.6,126.0"/>
<polygon fill="#ff0000" points="944.8,205.9 949.4,205.9 947.2,220.9"/>
<polygon fill="#ff0000" points="893.5,152.7 899.3,152.7 895.6,163.7"/>
<polygon fill="#ff0000" points="918.2,176.7 924.0,176.7 921.8,163.9"/>
<polygon fill="#ff0000" points="936.2,195.9 941.4,195.9 938.3,207.1"/>
<polygon fill="#ff0000" points="986.6,235.3 991.2,235.3 988.9,230.3"/>
<polygon fill="#ff0000" points="1018.7,244.5 1023.3,244.5 1021.0,249.3"/>
<polygon fill="#ff0000" points="1030.6,247.3 1033.8,247.3 1032.6,240.6"/>
<polygon fill="#ff0000" points="989.0,236.4 993.6,236.4 991.9,240.9"/>
<polygon fill="#ff0000" points="1031.0,247.4 1034.4,247.4 1033.4,242.4"/>
<polygon fill="#ff0000" points="989.0,236.1 992.2,236.1 989.9,231.2"/>
<polygon fill="#ff0000" points="1000.3,240.0 1005.0,240.0 1002.1,235.1"/>
<polygon fill="#ff0000" points="1023.7,245.6 1027.8,245.6 1026.2,252.0"/>
<polygon fill="#ff0000" points="1012.6,243.1 1016.1,243.1 1014.2,238.0"/>
<polygon fill="#ff0000" points="1032.4,247.9 1036.3,247.9 1034.9,242.3"/>
<polygon fill="#ff0000" points="1005.6,241.5 1008.9,241.5 1007.5,235.2"/>
<polygon fill="#ff0000" points="985.7,234.7 989.2,234.7 986.7,229.5"/>
<polyline stroke="#000000" points="736.0,31.2 737.5,38.0 741.0,64.0 745.2,55.0 748.5,61.0 757.5,62.5 761.2,69.9 763.7,76.1 767.4,78.6 769.9,86.1 773.7,94.8 778.6,103.5 784.9,109.7 789.8,116.0 794.8,125.9 801.0,135.8 802.5,140.0 810.0,152.4 813.7,158.7 814.9,164.9 819.9,174.8 829.9,184.8 839.8,193.5 849.8,202.2 857.2,209.7 864.7,214.6 880.1,222.1 897.3,227.7 909.8,232.2 922.2,237.2 934.6,240.9 947.1,244.1 974.8,249.6 999.7,254.0 1024.5,258.3 1049.4,262.0 1070.0,264.5 1095.0,264.8 1118.0,265.0"/>
<polygon fill="#000000" points="1055.0,262.9 1059.2,262.9 1056.4,257.4"/>
<polygon fill="#000000" points="1061.8,263.8 1066.1,263.8 1064.0,256.9"/>
<polygon fill="#000000" points="1028.7,259.2 1032.5,259.2 1031.2,266.6"/>
<polygon fill="#000000" points="1064.0,264.1 1068.7,264.1 1065.9,256.6"/>
<polygon fill="#000000" points="908.3,232.6 913.0,232.6 910.5,226.1"/>
<polygon fill="#000000" points="1074.3,264.6 1078.0,264.6 1076.2,269.7"/>
<polygon fill="#000000" points="907.4,232.1 911.5,232.1 909.6,227.0"/>
<polygon fill="#000000" points="1071.1,264.5 1075.7,264.5 1072.9,257.4"/>
<polygon fill="#000000" points="1086.9,264.7 1090.7,264.7 1088.7,270.4"/>
<polygon fill="#000000" points="1000.8,254.5 1004.9,254.5 1003.2,249.4"/>
<polygon fill="#000000" points="888.4,225.5 892.8,225.5 891.4,219.5"/>
<polygon fill="#000000" points="899.2,229.2 903.7,229.2 902.2,222.8"/>
<polygon fill="#000000" points="1045.8,261.7 1049.1,261.7 1047.0,255.3"/>
<polygon fill="#000000" points="897.5,228.4 901.2,228.4 900.0,233.8"/>
<polygon fill="#000000" points="1058.2,263.3 1062.5,263.3 1060.1,270.3"/>
<polygon fill="#000000" points="989.7,252.5 992.9,252.5 991.4,246.5"/>
<polygon fill="#000000" points="1001.6,254.7 1006.1,254.7 1003.9,247.3"/>
<polygon fill="#000000" points="1016.3,257.2 1019.6,257.2 1017.8,250.1"/>
<polyline stroke="#0000ff" points="735.5,35.3 811.1,35.3 815.2,40.4 819.4,52.9 824.9,62.5 830.4,64.7 842.9,66.1 847.0,73.6 849.8,88.8 855.0,110.0 858.5,122.0 862.0,135.0 865.0,145.0 869.7,160.0 874.6,177.0 880.0,192.0 884.9,202.3 892.3,216.0 899.8,227.2 909.8,234.2 922.2,239.7 934.6,246.0 947.1,249.5 974.8,253.0 999.7,256.0 1024.5,258.8 1049.4,260.7 1070.0,262.0 1094.7,262.8"/>
<polygon fill="#0000ff" points="902.3,230.2 905.8,230.2 903.5,234.4"/>
<polygon fill="#0000ff" points="976.9,253.5 980.8,253.5 979.4,248.7"/>
<polygon fill="#0000ff" points="906.1,232.9 909.7,232.9 907.3,228.5"/>
<polygon fill="#0000ff" points="1088.0,262.6 1091.5,262.6 1090.4,267.3"/>
<polygon fill="#0000ff" points="986.1,254.6 989.7,254.6 987.4,260.0"/>
<polygon fill="#0000ff" points="1022.5,258.8 1026.9,258.8 1024.9,254.6"/>
<polygon fill="#0000ff" points="933.6,246.2 937.2,246.2 934.8,251.3"/>
<polygon fill="#0000ff" points="967.2,252.3 970.5,252.3 969.3,247.9"/>
<polygon fill="#0000ff" points="1050.0,260.9 1053.6,260.9 1052.5,256.1"/>
<polygon fill="#0000ff" points="1065.2,261.8 1068.7,261.8 1067.4,256.5"/>
<polygon fill="#0000ff" points="870.9,169.3 873.8,169.3 872.7,173.4"/>
<polygon fill="#0000ff" points="861.5,138.7 864.8,138.7 862.7,134.3"/>
<polygon fill="#0000ff" points="859.5,133.3 863.6,133.3 861.7,128.7"/>
<polygon fill="#0000ff" points="856.3,119.7 859.3,119.7 857.9,124.1"/>
<polygon fill="#0000ff" points="848.5,91.3 852.3,91.3 851.1,95.3"/>
<polygon fill="#0000ff" points="869.9,166.3 873.1,166.3 871.9,162.8"/>
<polygon fill="#0000ff" points="879.7,194.7 882.9,194.7 880.8,198.3"/>
</g>
<rect x="735.5" y="30.5" width="592.0" height="237.0" fill="none" stroke="#1a1a1a" stroke-width="1.0"/>
<text x="729.9" y="254.9" text-anchor="end" class="t">5</text>
<text x="729.9" y="213.5" text-anchor="end" class="t">10</text>
<text x="729.9" y="172.1" text-anchor="end" class="t">15</text>
<text x="729.9" y="130.7" text-anchor="end" class="t">20</text>
<text x="729.9" y="89.3" text-anchor="end" class="t">25</text>
<text x="729.9" y="47.9" text-anchor="end" class="t">30</text>
<text id="Rx10_1" class="t" x="723.20" y="286.90" textLength="18.48" lengthAdjust="spacingAndGlyphs">10</text>
<text x="740.5" y="280.6" class="s2" textLength="7.0" lengthAdjust="spacingAndGlyphs">1</text>
<text id="Rx10_2" class="t" x="914.20" y="286.90" textLength="18.48" lengthAdjust="spacingAndGlyphs">10</text>
<text x="931.5" y="280.6" class="s2" textLength="7.0" lengthAdjust="spacingAndGlyphs">2</text>
<text id="Rx10_3" class="t" x="1105.20" y="286.90" textLength="18.48" lengthAdjust="spacingAndGlyphs">10</text>
<text x="1122.5" y="280.6" class="s2" textLength="7.0" lengthAdjust="spacingAndGlyphs">3</text>
<text id="Rx10_4" class="t" x="1296.20" y="286.90" textLength="18.48" lengthAdjust="spacingAndGlyphs">10</text>
<text x="1313.5" y="280.6" class="s2" textLength="7.0" lengthAdjust="spacingAndGlyphs">4</text>
<text id="Rxl" class="t" x="972.40" y="308.90" textLength="118.66" lengthAdjust="spacingAndGlyphs">Time in Seconds</text>
<text id="Ryl" class="t" transform="translate(698.90,223.50) rotate(-90)" x="0" y="0" textLength="147.92" lengthAdjust="spacingAndGlyphs">Mean Squared Error</text>
<text id="Rti" class="b" x="888.20" y="11.90" textLength="286.76" lengthAdjust="spacingAndGlyphs">USPS, 256-300-100-20-100-300-256</text>
<rect x="801.5" y="326.5" width="460" height="60" fill="none" stroke="#333" stroke-width="1"/>
<line x1="808.5" y1="342.4" x2="836.5" y2="342.4" stroke="#800080" stroke-width="4.5"/>
<text id="Rleg0" class="t" x="841.10" y="347.00" textLength="25.62" lengthAdjust="spacingAndGlyphs">CG</text>
<line x1="872.3" y1="342.4" x2="900.3" y2="342.4" stroke="#ff8000" stroke-width="4.5"/>
<text id="Rleg1" class="t" x="904.80" y="349.20" textLength="36.18" lengthAdjust="spacingAndGlyphs">SGD</text>
<text x="940.9" y="341.6" class="s">*</text>
<line x1="953.3" y1="342.4" x2="981.3" y2="342.4" stroke="#a08d00" stroke-width="4.5"/>
<text id="Rleg2" class="t" x="986.60" y="349.20" textLength="39.91" lengthAdjust="spacingAndGlyphs">MAC</text>
<text x="1026.6" y="341.6" class="s">*</text>
<line x1="1039.5" y1="342.4" x2="1067.5" y2="342.4" stroke="#ff0000" stroke-width="4.5"/>
<text id="Rleg3" class="t" x="1071.40" y="347.00" textLength="35.78" lengthAdjust="spacingAndGlyphs">SGD</text>
<line x1="1112.9" y1="342.4" x2="1140.9" y2="342.4" stroke="#000000" stroke-width="4.5"/>
<text id="Rleg4" class="t" x="1146.10" y="347.00" textLength="36.34" lengthAdjust="spacingAndGlyphs">Ours</text>
<line x1="1187.4" y1="342.4" x2="1215.4" y2="342.4" stroke="#0000ff" stroke-width="4.5"/>
<text id="Rleg5" class="t" x="1219.80" y="347.00" textLength="33.05" lengthAdjust="spacingAndGlyphs">SFO</text>
</svg>
</body></html>
